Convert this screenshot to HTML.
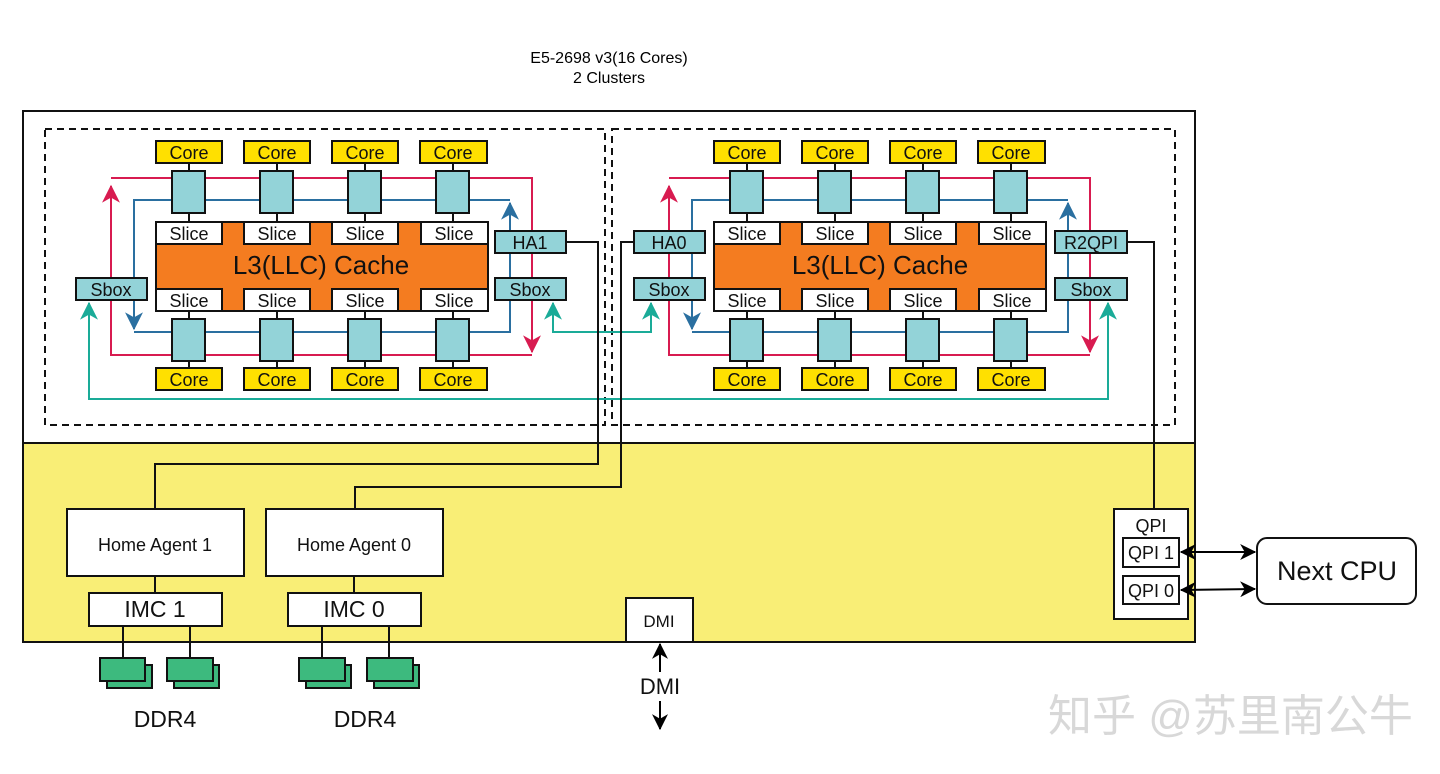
<!DOCTYPE html>
<html><head><meta charset="utf-8"><style>
html,body{margin:0;padding:0;background:#fff;}
svg{display:block;font-family:"Liberation Sans",Arial,sans-serif;}
</style></head><body>
<svg width="1440" height="774" viewBox="0 0 1440 774" xmlns="http://www.w3.org/2000/svg">
<defs>
<marker id="mr" viewBox="0 0 14 14" refX="13" refY="7" markerWidth="18" markerHeight="18" orient="auto" markerUnits="userSpaceOnUse"><path d="M0,0 L14,7 L0,14 L4,7 z" fill="#d81b50"/></marker>
<marker id="mb" viewBox="0 0 14 14" refX="13" refY="7" markerWidth="18" markerHeight="18" orient="auto" markerUnits="userSpaceOnUse"><path d="M0,0 L14,7 L0,14 L4,7 z" fill="#2a6fa0"/></marker>
<marker id="mt" viewBox="0 0 14 14" refX="13" refY="7" markerWidth="18" markerHeight="18" orient="auto" markerUnits="userSpaceOnUse"><path d="M0,0 L14,7 L0,14 L4,7 z" fill="#1aab98"/></marker>
<marker id="mk" viewBox="0 0 14 14" refX="13" refY="7" markerWidth="16" markerHeight="16" orient="auto" markerUnits="userSpaceOnUse"><path d="M0,0 L14,7 L0,14 L4,7 z" fill="#000"/></marker>
<marker id="mks" viewBox="0 0 14 14" refX="1" refY="7" markerWidth="16" markerHeight="16" orient="auto" markerUnits="userSpaceOnUse"><path d="M14,0 L0,7 L14,14 L10,7 z" fill="#000"/></marker>
<g id="clu">
  <path d="M532,355 H111 V186" fill="none" stroke="#d81b50" stroke-width="2" marker-end="url(#mr)"/>
  <path d="M111,178 H532 V352" fill="none" stroke="#d81b50" stroke-width="2" marker-end="url(#mr)"/>
  <path d="M510,200 H134 V329" fill="none" stroke="#2a6fa0" stroke-width="2" marker-end="url(#mb)"/>
  <path d="M134,332 H510 V203" fill="none" stroke="#2a6fa0" stroke-width="2" marker-end="url(#mb)"/>
  <rect x="156" y="222" width="332" height="89" fill="#f47c20" stroke="#111" stroke-width="2"/>
  <g stroke="#111" stroke-width="2">
    <line x1="189" y1="163" x2="189" y2="222"/><line x1="277" y1="163" x2="277" y2="222"/><line x1="365" y1="163" x2="365" y2="222"/><line x1="453" y1="163" x2="453" y2="222"/>
    <line x1="189" y1="311" x2="189" y2="368"/><line x1="277" y1="311" x2="277" y2="368"/><line x1="365" y1="311" x2="365" y2="368"/><line x1="453" y1="311" x2="453" y2="368"/>
  </g>
  <g fill="#ffe000" stroke="#111" stroke-width="2">
    <rect x="156" y="141" width="66" height="22"/><rect x="244" y="141" width="66" height="22"/><rect x="332" y="141" width="66" height="22"/><rect x="420" y="141" width="67" height="22"/>
    <rect x="156" y="368" width="66" height="22"/><rect x="244" y="368" width="66" height="22"/><rect x="332" y="368" width="66" height="22"/><rect x="420" y="368" width="67" height="22"/>
  </g>
  <g fill="#fff" stroke="#111" stroke-width="2">
    <rect x="156" y="222" width="66" height="22"/><rect x="244" y="222" width="66" height="22"/><rect x="332" y="222" width="66" height="22"/><rect x="421" y="222" width="67" height="22"/>
    <rect x="156" y="289" width="66" height="22"/><rect x="244" y="289" width="66" height="22"/><rect x="332" y="289" width="66" height="22"/><rect x="421" y="289" width="67" height="22"/>
  </g>
  <g fill="#93d3d8" stroke="#111" stroke-width="2">
    <rect x="172" y="171" width="33" height="42"/><rect x="260" y="171" width="33" height="42"/><rect x="348" y="171" width="33" height="42"/><rect x="436" y="171" width="33" height="42"/>
    <rect x="172" y="319" width="33" height="42"/><rect x="260" y="319" width="33" height="42"/><rect x="348" y="319" width="33" height="42"/><rect x="436" y="319" width="33" height="42"/>
  </g>
</g>
</defs>

<text x="609" y="63" font-size="16" text-anchor="middle">E5-2698 v3(16 Cores)</text>
<text x="609" y="83" font-size="16" text-anchor="middle">2 Clusters</text>

<rect x="23" y="443" width="1172" height="199" fill="#f9ee76"/>
<rect x="23" y="111" width="1172" height="531" fill="none" stroke="#111" stroke-width="2"/>
<line x1="23" y1="443" x2="1195" y2="443" stroke="#111" stroke-width="2"/>

<rect x="45" y="129" width="560" height="296" fill="none" stroke="#111" stroke-width="2" stroke-dasharray="7,5"/>
<rect x="612" y="129" width="563" height="296" fill="none" stroke="#111" stroke-width="2" stroke-dasharray="7,5"/>

<path d="M600,399 H89 V303" fill="none" stroke="#1aab98" stroke-width="2" marker-end="url(#mt)"/>
<path d="M600,399 H1108 V303" fill="none" stroke="#1aab98" stroke-width="2" marker-end="url(#mt)"/>
<path d="M600,332 H553 V303" fill="none" stroke="#1aab98" stroke-width="2" marker-end="url(#mt)"/>
<path d="M600,332 H651 V303" fill="none" stroke="#1aab98" stroke-width="2" marker-end="url(#mt)"/>

<use href="#clu"/>
<use href="#clu" transform="translate(558,0)"/>

<path d="M566,242 H598 V464 H155 V510" fill="none" stroke="#111" stroke-width="2"/>
<path d="M634,242 H621 V487 H355 V510" fill="none" stroke="#111" stroke-width="2"/>
<path d="M1127,242 H1154 V510" fill="none" stroke="#111" stroke-width="2"/>

<g fill="#93d3d8" stroke="#111" stroke-width="2">
  <rect x="76" y="278" width="71" height="22"/>
  <rect x="495" y="231" width="71" height="22"/><rect x="495" y="278" width="71" height="22"/>
  <rect x="634" y="231" width="71" height="22"/><rect x="634" y="278" width="71" height="22"/>
  <rect x="1055" y="231" width="72" height="22"/><rect x="1055" y="278" width="72" height="22"/>
</g>

<g font-size="18" text-anchor="middle" fill="#111">
  <text x="189" y="159">Core</text><text x="277" y="159">Core</text><text x="365" y="159">Core</text><text x="453" y="159">Core</text>
  <text x="189" y="386">Core</text><text x="277" y="386">Core</text><text x="365" y="386">Core</text><text x="453" y="386">Core</text>
  <text x="189" y="240">Slice</text><text x="277" y="240">Slice</text><text x="365" y="240">Slice</text><text x="454" y="240">Slice</text>
  <text x="189" y="307">Slice</text><text x="277" y="307">Slice</text><text x="365" y="307">Slice</text><text x="454" y="307">Slice</text>
  <text x="747" y="159">Core</text><text x="835" y="159">Core</text><text x="923" y="159">Core</text><text x="1011" y="159">Core</text>
  <text x="747" y="386">Core</text><text x="835" y="386">Core</text><text x="923" y="386">Core</text><text x="1011" y="386">Core</text>
  <text x="747" y="240">Slice</text><text x="835" y="240">Slice</text><text x="923" y="240">Slice</text><text x="1012" y="240">Slice</text>
  <text x="747" y="307">Slice</text><text x="835" y="307">Slice</text><text x="923" y="307">Slice</text><text x="1012" y="307">Slice</text>
  <text x="111" y="296">Sbox</text>
  <text x="530" y="249">HA1</text><text x="530" y="296">Sbox</text>
  <text x="669" y="249">HA0</text><text x="669" y="296">Sbox</text>
  <text x="1091" y="249">R2QPI</text><text x="1091" y="296">Sbox</text>
</g>
<text x="321" y="274" font-size="26" text-anchor="middle" fill="#111">L3(LLC) Cache</text>
<text x="880" y="274" font-size="26" text-anchor="middle" fill="#111">L3(LLC) Cache</text>

<g fill="#fff" stroke="#111" stroke-width="2">
  <rect x="67" y="509" width="177" height="67"/>
  <rect x="266" y="509" width="177" height="67"/>
  <rect x="89" y="593" width="133" height="33"/>
  <rect x="288" y="593" width="133" height="33"/>
  <rect x="626" y="598" width="67" height="44"/>
  <rect x="1114" y="509" width="74" height="110"/>
  <rect x="1123" y="538" width="56" height="29"/>
  <rect x="1123" y="576" width="56" height="28"/>
  <rect x="1257" y="538" width="159" height="66" rx="10"/>
</g>
<g stroke="#111" stroke-width="2">
  <line x1="155" y1="576" x2="155" y2="593"/><line x1="354" y1="576" x2="354" y2="593"/>
  <line x1="123" y1="626" x2="123" y2="658"/><line x1="190" y1="626" x2="190" y2="658"/>
  <line x1="322" y1="626" x2="322" y2="658"/><line x1="389" y1="626" x2="389" y2="658"/>
</g>
<g fill="#3dba7e" stroke="#111" stroke-width="2">
  <rect x="107" y="665" width="45" height="23"/><rect x="100" y="658" width="45" height="23"/>
  <rect x="174" y="665" width="45" height="23"/><rect x="167" y="658" width="46" height="23"/>
  <rect x="306" y="665" width="45" height="23"/><rect x="299" y="658" width="46" height="23"/>
  <rect x="374" y="665" width="45" height="23"/><rect x="367" y="658" width="46" height="23"/>
</g>
<path d="M1181,552 L1255,552" stroke="#000" stroke-width="2" marker-start="url(#mks)" marker-end="url(#mk)"/>
<path d="M1181,590 L1255,589" stroke="#000" stroke-width="2" marker-start="url(#mks)" marker-end="url(#mk)"/>
<path d="M660,672 L660,644" stroke="#000" stroke-width="2" marker-end="url(#mk)"/>
<path d="M660,701 L660,729" stroke="#000" stroke-width="2" marker-end="url(#mk)"/>

<g fill="#111" text-anchor="middle">
  <text x="155" y="551" font-size="18">Home Agent 1</text>
  <text x="354" y="551" font-size="18">Home Agent 0</text>
  <text x="155" y="617" font-size="23">IMC 1</text>
  <text x="354" y="617" font-size="23">IMC 0</text>
  <text x="165" y="727" font-size="23">DDR4</text>
  <text x="365" y="727" font-size="23">DDR4</text>
  <text x="659" y="627" font-size="17">DMI</text>
  <text x="660" y="694" font-size="22">DMI</text>
  <text x="1151" y="532" font-size="18">QPI</text>
  <text x="1151" y="559" font-size="18">QPI 1</text>
  <text x="1151" y="597" font-size="18">QPI 0</text>
  <text x="1337" y="580" font-size="27">Next CPU</text>
</g>
<text x="1048" y="731" font-size="44" fill="#d8d8d8" font-family="'Liberation Sans','Noto Sans CJK SC',sans-serif">知乎 @苏里南公牛</text>
</svg>
</body></html>
